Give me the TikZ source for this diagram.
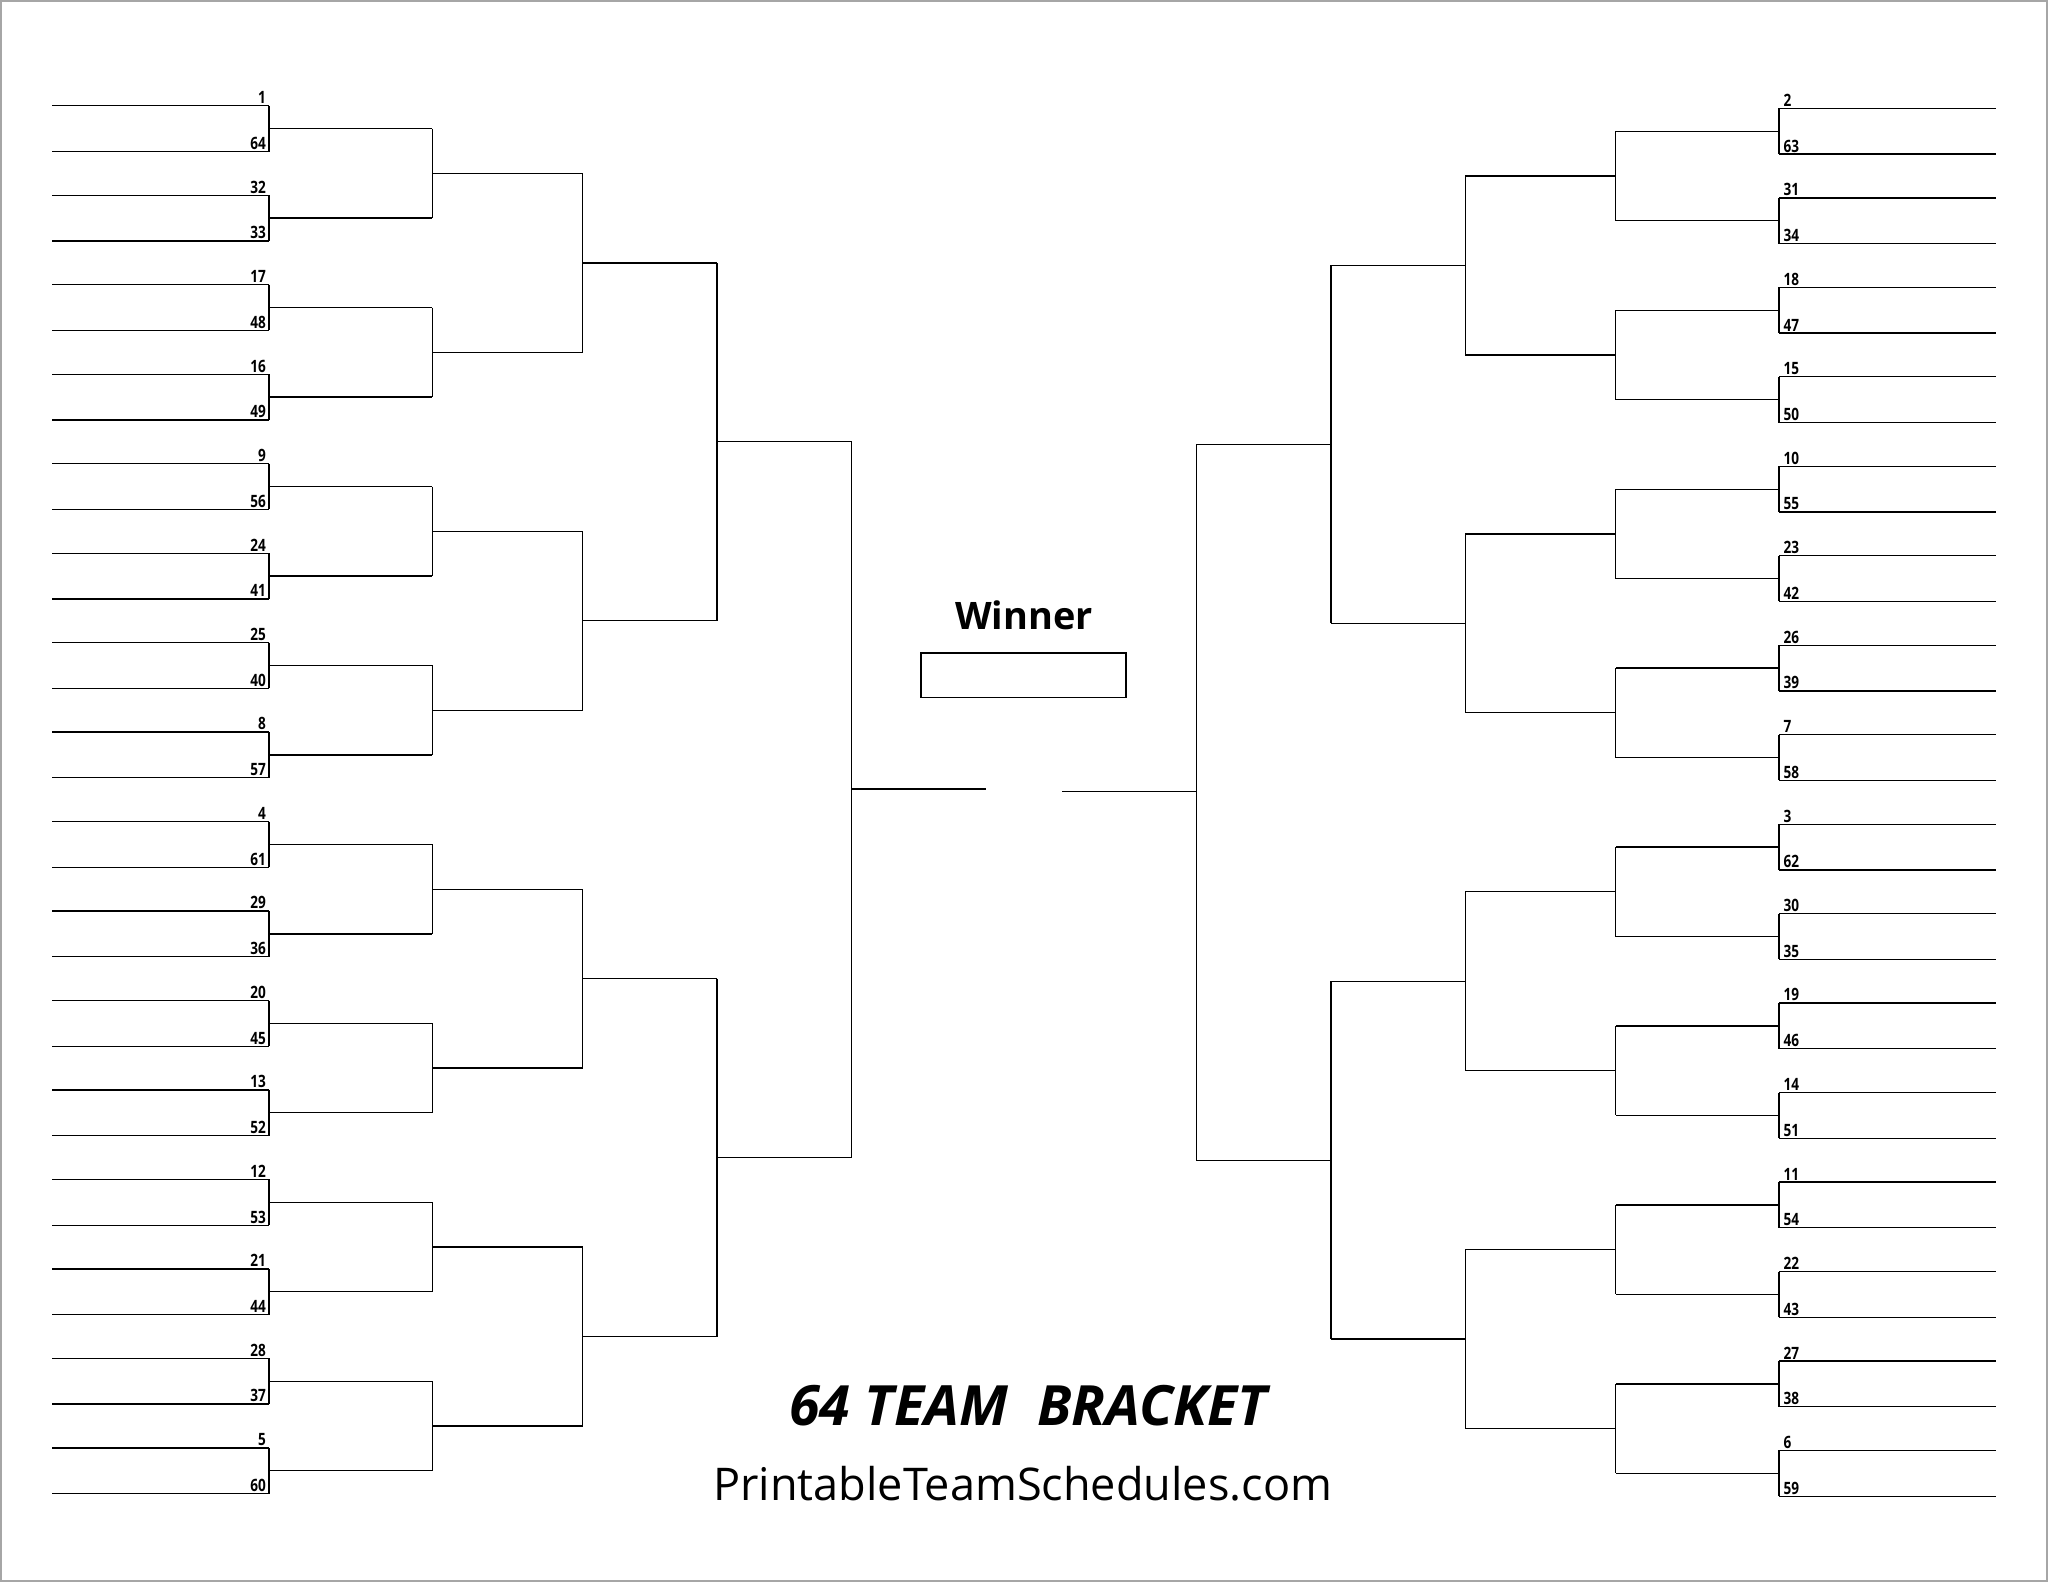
\documentclass[tikz,border=0pt]{standalone}
\usepackage{fontspec}
\setmainfont{Open Sans}
\begin{document}
\begin{tikzpicture}[x=1pt,y=-1pt,line width=1pt,
  seed/.style={inner sep=1pt,font=\fontsize{13}{13}\selectfont\bfseries\addfontfeature{FakeStretch=0.8}}]
\useasboundingbox (0,0) rectangle (1568,1211);
\draw[gray!70,line width=1.5pt] (0.75,0.75) rectangle (1567.25,1210.25);
\foreach \s in {1,-1}{
\begin{scope}[xshift={(\s==1?0:1568)*1pt}, x={\s*1pt}, yshift={(\s==1?0:-2)*1pt}]
\foreach \k in {0,...,15}{
  \pgfmathsetmacro\t{81+68.5*\k}
  \pgfmathsetmacro\b{\t+35}
  \pgfmathsetmacro\m{\t+17.5}
  \draw (40,\t)--(206,\t) (40,\b)--(206,\b) (206,\t)--(206,\b) (206,\m)--(331,\m);
}
\foreach \j in {0,...,7}{
  \pgfmathsetmacro\t{98.5+137*\j}
  \pgfmathsetmacro\m{\t+34.25}
  \draw (331,\t)--(331,\t+68.5) (331,\m)--(446,\m);
}
\foreach \j in {0,...,3}{
  \pgfmathsetmacro\t{132.75+274*\j}
  \pgfmathsetmacro\m{\t+68.5}
  \draw (446,\t)--(446,\t+137) (446,\m)--(549,\m);
}
\foreach \j in {0,1}{
  \pgfmathsetmacro\t{201.25+548*\j}
  \pgfmathsetmacro\m{\t+137}
  \draw (549,\t)--(549,\t+274) (549,\m)--(652,\m);
}
\draw (652,338.25)--(652,886.25) (652,604)--(755,604);
\end{scope}}
\foreach \k/\a/\c in {0/1/64,1/32/33,2/17/48,3/16/49,4/9/56,5/24/41,6/25/40,7/8/57,8/4/61,9/29/36,10/20/45,11/13/52,12/12/53,13/21/44,14/28/37,15/5/60}{
  \pgfmathsetmacro\t{81+68.5*\k}
  \node[seed,anchor=south east] (l\a) at (205,\t) {\a};
  \node[seed,anchor=south east] (l\c) at (205,\t+35) {\c};
}
\foreach \k/\a/\c in {0/2/63,1/31/34,2/18/47,3/15/50,4/10/55,5/23/42,6/26/39,7/7/58,8/3/62,9/30/35,10/19/46,11/14/51,12/11/54,13/22/43,14/27/38,15/6/59}{
  \pgfmathsetmacro\t{83+68.5*\k}
  \node[seed,anchor=south west] (r\a) at (1364,\t) {\a};
  \node[seed,anchor=south west] (r\c) at (1364,\t+35) {\c};
}
\node[font=\fontsize{29}{29}\selectfont\bfseries] (win) at (784,471) {Winner};
\node[draw,line width=1.5pt,minimum width=157pt,minimum height=34pt,inner sep=0pt] (box) at (783.5,517) {};
\node[font=\fontsize{42.5}{42.5}\selectfont\bfseries\itshape] (title) at (787,1076) {64 TEAM\ \ BRACKET};
\node[font=\fontsize{34.5}{34.5}\selectfont] (site) at (783,1136) {PrintableTeamSchedules.com};
\end{tikzpicture}
\end{document}
